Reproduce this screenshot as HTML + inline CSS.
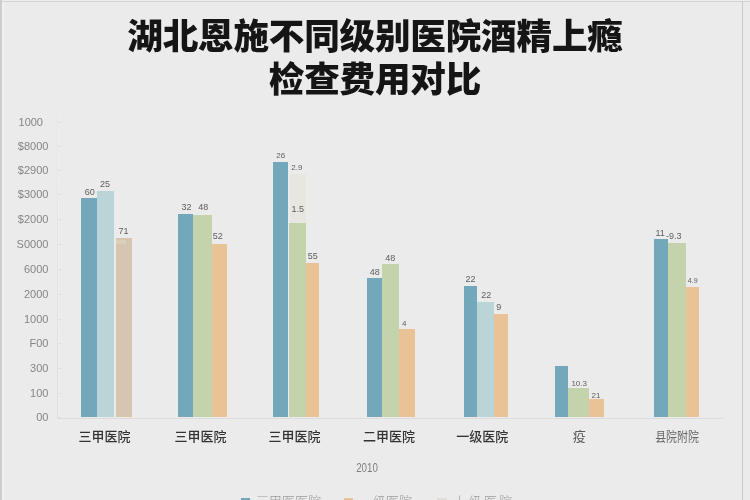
<!DOCTYPE html>
<html lang="zh-CN"><head><meta charset="utf-8"><title>湖北恩施不同级别医院酒精上瘾检查费用对比</title>
<style>
html,body{margin:0;padding:0;}
body{width:750px;height:500px;overflow:hidden;background:#ebebeb;position:relative;font-family:"Liberation Sans","Noto Sans CJK SC",sans-serif;}
#c{position:absolute;left:0;top:0;width:750px;height:500px;overflow:hidden;background:#ebebeb;}
.a{position:absolute;}
.t{position:absolute;left:0;width:750px;text-align:center;font-weight:900;font-size:35.6px;line-height:44px;letter-spacing:-0.2px;color:#151515;white-space:nowrap;font-family:"Liberation Sans","Noto Sans CJK SC",sans-serif;}
.y{position:absolute;font-size:11px;line-height:12px;height:12px;color:#858585;text-align:right;white-space:nowrap;}
.v{position:absolute;width:40px;text-align:center;line-height:10px;height:10px;color:#5e5e5e;white-space:nowrap;}
.x{position:absolute;width:120px;text-align:center;line-height:16px;height:16px;white-space:nowrap;font-weight:500;font-family:"Liberation Sans","Noto Sans CJK SC",sans-serif;}
.b{position:absolute;}
.lg{position:absolute;font-size:13px;line-height:16px;color:#9a9a9a;white-space:nowrap;font-weight:300;}
</style></head><body><div id="c">

<div class="a" style="left:0;top:0;width:750px;height:1px;background:#eeeeee"></div>
<div class="a" style="left:0;top:1px;width:750px;height:1px;background:#d2d2d2"></div>
<div class="a" style="left:0;top:0;width:2px;height:500px;background:#cdcdcd"></div>
<div class="a" style="left:2px;top:2px;width:2px;height:498px;background:#f1f1f1"></div>
<div class="a" style="left:742px;top:1px;width:1px;height:499px;background:#c8c8c8"></div>
<div class="t" style="top:15px">湖北恩施不同级别医院酒精上瘾</div>
<div class="t" style="top:58.3px">检查费用对比</div>
<div class="a" style="left:56.6px;top:114px;width:1.2px;height:304px;background:linear-gradient(#e8e8e8,#dedede)"></div>
<div class="a" style="left:57.8px;top:114px;width:1px;height:304px;background:#efefef"></div>
<div class="a" style="left:57px;top:417.5px;width:666px;height:1.2px;background:#dcdcdc"></div>
<div class="a" style="left:57px;top:121.5px;width:3.5px;height:1px;background:#e0e0e0"></div>
<div class="y" style="left:-17.0px;width:60.0px;top:115.8px">1000</div>
<div class="a" style="left:57px;top:145.5px;width:3.5px;height:1px;background:#e0e0e0"></div>
<div class="y" style="left:-11.6px;width:60.0px;top:139.8px">$8000</div>
<div class="a" style="left:57px;top:169.8px;width:3.5px;height:1px;background:#e0e0e0"></div>
<div class="y" style="left:-11.6px;width:60.0px;top:164.1px">$2900</div>
<div class="a" style="left:57px;top:194.1px;width:3.5px;height:1px;background:#e0e0e0"></div>
<div class="y" style="left:-11.6px;width:60.0px;top:188.4px">$3000</div>
<div class="a" style="left:57px;top:218.9px;width:3.5px;height:1px;background:#e0e0e0"></div>
<div class="y" style="left:-11.6px;width:60.0px;top:213.2px">$2000</div>
<div class="a" style="left:57px;top:243.5px;width:3.5px;height:1px;background:#e0e0e0"></div>
<div class="y" style="left:-11.6px;width:60.0px;top:237.8px">S0000</div>
<div class="a" style="left:57px;top:269.1px;width:3.5px;height:1px;background:#e0e0e0"></div>
<div class="y" style="left:-11.6px;width:60.0px;top:263.4px">6000</div>
<div class="a" style="left:57px;top:293.5px;width:3.5px;height:1px;background:#e0e0e0"></div>
<div class="y" style="left:-11.6px;width:60.0px;top:287.8px">2000</div>
<div class="a" style="left:57px;top:318.5px;width:3.5px;height:1px;background:#e0e0e0"></div>
<div class="y" style="left:-11.6px;width:60.0px;top:312.8px">1000</div>
<div class="a" style="left:57px;top:342.5px;width:3.5px;height:1px;background:#e0e0e0"></div>
<div class="y" style="left:-11.6px;width:60.0px;top:336.8px">F00</div>
<div class="a" style="left:57px;top:367.5px;width:3.5px;height:1px;background:#e0e0e0"></div>
<div class="y" style="left:-11.6px;width:60.0px;top:361.8px">300</div>
<div class="a" style="left:57px;top:392.5px;width:3.5px;height:1px;background:#e0e0e0"></div>
<div class="y" style="left:-11.6px;width:60.0px;top:386.8px">100</div>
<div class="a" style="left:57px;top:416.9px;width:3.5px;height:1px;background:#e0e0e0"></div>
<div class="y" style="left:-11.6px;width:60.0px;top:411.2px">00</div>
<div class="b" style="left:81.0px;top:197.6px;width:16.0px;height:219.4px;background:#72a8ba"></div>
<div class="b" style="left:97.0px;top:191.4px;width:17.4px;height:225.6px;background:#bbd4d8"></div>
<div class="b" style="left:116.0px;top:238.0px;width:15.6px;height:179.0px;background:#d6c5af"></div>
<div class="b" style="left:177.6px;top:213.6px;width:15.4px;height:203.4px;background:#72a8ba"></div>
<div class="b" style="left:193.0px;top:215.0px;width:18.6px;height:202.0px;background:#c4d3ab"></div>
<div class="b" style="left:211.6px;top:244.0px;width:15.0px;height:173.0px;background:#e9c396"></div>
<div class="b" style="left:273.0px;top:162.0px;width:15.4px;height:255.0px;background:#72a8ba"></div>
<div class="b" style="left:289.6px;top:174.0px;width:16.2px;height:243.0px;background:#e7e6e0"></div>
<div class="b" style="left:288.8px;top:223.0px;width:17.2px;height:194.0px;background:#c4d3ab"></div>
<div class="b" style="left:306.0px;top:263.0px;width:13.0px;height:154.0px;background:#e9c396"></div>
<div class="b" style="left:367.0px;top:278.4px;width:15.4px;height:138.6px;background:#72a8ba"></div>
<div class="b" style="left:382.4px;top:264.4px;width:17.0px;height:152.6px;background:#c4d3ab"></div>
<div class="b" style="left:399.3px;top:329.2px;width:15.3px;height:87.8px;background:#e9c396"></div>
<div class="b" style="left:464.0px;top:285.6px;width:13.0px;height:131.4px;background:#72a8ba"></div>
<div class="b" style="left:477.0px;top:302.0px;width:17.0px;height:115.0px;background:#bbd4d8"></div>
<div class="b" style="left:494.0px;top:313.6px;width:14.0px;height:103.4px;background:#e9c396"></div>
<div class="b" style="left:555.4px;top:366.0px;width:12.6px;height:51.0px;background:#72a8ba"></div>
<div class="b" style="left:568.0px;top:388.0px;width:21.0px;height:29.0px;background:#c4d3ab"></div>
<div class="b" style="left:589.0px;top:399.0px;width:14.6px;height:18.0px;background:#e9c396"></div>
<div class="b" style="left:654.4px;top:239.0px;width:14.0px;height:178.0px;background:#72a8ba"></div>
<div class="b" style="left:668.4px;top:243.0px;width:17.2px;height:174.0px;background:#c4d3ab"></div>
<div class="b" style="left:685.6px;top:287.0px;width:13.4px;height:130.0px;background:#e9c396"></div>
<div class="b" style="left:116px;top:240px;width:10.4px;height:4px;background:#ddd0b8"></div>
<div class="v" style="left:69.7px;top:186.8px;font-size:9px">60</div>
<div class="v" style="left:85.1px;top:178.6px;font-size:9px">25</div>
<div class="v" style="left:103.4px;top:226.2px;font-size:9px">71</div>
<div class="v" style="left:166.5px;top:202.2px;font-size:9px">32</div>
<div class="v" style="left:183.3px;top:202.2px;font-size:9px">48</div>
<div class="v" style="left:197.8px;top:231.1px;font-size:9px">52</div>
<div class="v" style="left:260.8px;top:151.1px;font-size:8px">26</div>
<div class="v" style="left:276.8px;top:162.8px;font-size:8px">2.9</div>
<div class="v" style="left:277.8px;top:203.6px;font-size:9px">1.5</div>
<div class="v" style="left:292.7px;top:250.5px;font-size:9px">55</div>
<div class="v" style="left:354.7px;top:266.8px;font-size:9px">48</div>
<div class="v" style="left:370.3px;top:253.0px;font-size:9px">48</div>
<div class="v" style="left:384.2px;top:319.1px;font-size:8px">4</div>
<div class="v" style="left:450.5px;top:273.6px;font-size:9px">22</div>
<div class="v" style="left:466.2px;top:290.3px;font-size:9px">22</div>
<div class="v" style="left:478.7px;top:302.0px;font-size:9px">9</div>
<div class="v" style="left:559.2px;top:378.8px;font-size:8px">10.3</div>
<div class="v" style="left:576.0px;top:390.5px;font-size:8px">21</div>
<div class="v" style="left:640.2px;top:228.0px;font-size:9px">11</div>
<div class="v" style="left:653.7px;top:231.4px;font-size:9px">-9.3</div>
<div class="v" style="left:672.7px;top:275.8px;font-size:7px">4.9</div>
<div class="x" style="left:44.5px;top:428.5px;font-size:13px;color:#333">三甲医院</div>
<div class="x" style="left:140.5px;top:428.5px;font-size:13px;color:#333">三甲医院</div>
<div class="x" style="left:234.5px;top:428.5px;font-size:13px;color:#333">三甲医院</div>
<div class="x" style="left:329.0px;top:428.5px;font-size:13px;color:#333">二甲医院</div>
<div class="x" style="left:422.2px;top:428.5px;font-size:13px;color:#333">一级医院</div>
<div class="x" style="left:519.2px;top:428.5px;font-size:13px;color:#5a5a5a;font-weight:400">疫</div>
<div class="x" style="left:616.7px;top:428.5px;font-size:13px;color:#666;font-weight:400;transform:scaleX(0.84)">县院附院</div>
<div class="v" style="left:347.2px;top:463.4px;font-size:12.5px;color:#7e7e7e;transform:scaleX(0.78)">2010</div>
<div class="a" style="left:240.5px;top:497.5px;width:9.5px;height:9px;background:#72a8ba"></div>
<div class="lg" style="left:256px;top:493.7px">三甲医医院</div>
<div class="a" style="left:344px;top:497.5px;width:9px;height:9px;background:#e9c396"></div>
<div class="lg" style="left:360px;top:493.7px">一级医院</div>
<div class="a" style="left:437px;top:498px;width:10px;height:9px;background:#e0ddd6"></div>
<div class="lg" style="left:453.5px;top:493.7px;letter-spacing:2.2px">上级医院</div>
</div></body></html>
